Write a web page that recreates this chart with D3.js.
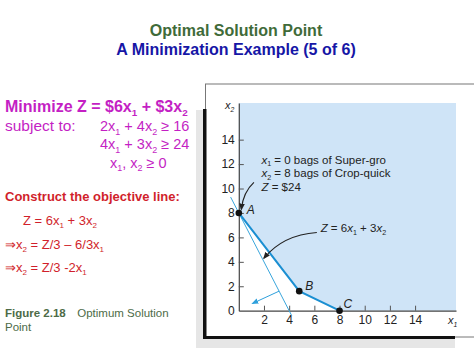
<!DOCTYPE html>
<html>
<head>
<meta charset="utf-8">
<script src="https://cdn.jsdelivr.net/npm/d3@7"></script>
<style>
  body { margin: 0; background: #fff; }
  svg { display: block; font-family: "Liberation Sans", Arial, sans-serif; }
</style>
</head>
<body>
<script>
// Minimization example: feasible region, corner points and objective line
const width = 474, height = 355;

const xTicks = [2, 4, 6, 8, 10, 12, 14];
const yTicks = [0, 2, 4, 6, 8, 10, 12, 14];

// boundary of the feasible region (constraint lines)
const boundary = [[0, 8], [4.8, 1.6], [8, 0]];
const corners = [
    { name: "A", x1: 0, x2: 8 },
    { name: "B", x1: 4.8, x2: 1.6 },
    { name: "C", x1: 8, x2: 0 }
];
// objective line Z = 24 (x2 = 8 - 2x1), drawn a bit past the axes
const objLine = [[-0.65, 9.3], [4.2, -0.4]];
// direction of improvement
const objArrow = [[3.2, 1.6], [1.1, 0.6]];

const titleLines = ["Optimal Solution Point", "A Minimization Example (5 of 6)"];
const modelLines = ["2x_1 + 4x_2 \u2265 16", "4x_1 + 3x_2 \u2265 24", "x_1, x_2 \u2265 0"];
const objSteps = ["Z = 6x_1 + 3x_2", "\u21d2x_2 = Z/3 \u2013 6/3x_1", "\u21d2x_2 = Z/3 -2x_1"];
const noteLines = ["~x~_1 = 0 bags of Super-gro", "~x~_2 = 8 bags of Crop-quick", "~Z~ = $24"];

const svg = d3.select("body").append("svg")
    .attr("width", width)
    .attr("height", height);

svg.append("rect").attr("width", width).attr("height", height).attr("fill", "#fff");

// writes text with _d subscripts and ~...~ italics
function rich(sel, str, size) {
    const parts = str.split(/(_\d|~)/).filter(s => s !== "");
    let italic = false, down = false;
    parts.forEach(p => {
        if (p === "~") { italic = !italic; return; }
        const t = sel.append("tspan");
        if (p[0] === "_") {
            t.text(p.slice(1)).attr("font-size", size * 0.62).attr("dy", size * 0.25);
            down = true;
        } else {
            t.text(p);
            if (down) { t.attr("dy", -size * 0.25); down = false; }
        }
        if (italic) t.attr("font-style", "italic");
    });
    return sel;
}

// titles
svg.append("text").attr("x", 236).attr("y", 36).attr("text-anchor", "middle")
    .attr("font-size", 16).attr("font-weight", "bold").attr("fill", "#3f6b39")
    .text(titleLines[0]);
svg.append("text").attr("x", 236).attr("y", 55).attr("text-anchor", "middle")
    .attr("font-size", 16).attr("font-weight", "bold").attr("fill", "#1616a6")
    .text(titleLines[1]);

// model
const magenta = "#c41fc4";
rich(svg.append("text").attr("x", 5).attr("y", 112).attr("font-size", 16)
    .attr("font-weight", "bold").attr("fill", magenta), "Minimize Z = $6x_1 + $3x_2", 16);
svg.append("text").attr("x", 5).attr("y", 131).attr("font-size", 15.5).attr("fill", magenta)
    .text("subject to:");
modelLines.forEach((s, i) => {
    rich(svg.append("text").attr("x", i === 2 ? 110 : 100).attr("y", 131 + i * 18.3)
        .attr("font-size", 14.5).attr("fill", magenta), s, 14.5);
});

// objective line construction
const red = "#d11f2c";
svg.append("text").attr("x", 5).attr("y", 201).attr("font-size", 13)
    .attr("font-weight", "bold").attr("fill", red).text("Construct the objective line:");
objSteps.forEach((s, i) => {
    rich(svg.append("text").attr("x", i === 0 ? 23 : 5).attr("y", 225 + i * 23.5)
        .attr("font-size", 13).attr("fill", red), s, 13);
});

const cap = svg.append("text").attr("x", 5).attr("y", 317).attr("font-size", 11.5).attr("fill", "#4d6b47");
cap.append("tspan").attr("font-weight", "bold").text("Figure 2.18");
cap.append("tspan").text("\u2003Optimum Solution");
svg.append("text").attr("x", 5).attr("y", 331).attr("font-size", 11.5).attr("fill", "#4d6b47").text("Point");

// figure frame
svg.append("rect").attr("x", 196).attr("y", 110).attr("width", 259).attr("height", 238).attr("fill", "#e6e6e6");
svg.append("rect").attr("x", 205.5).attr("y", 84).attr("width", 280).attr("height", 253)
    .attr("fill", "#fff").attr("stroke", "#777").attr("stroke-width", 1);
svg.append("rect").attr("x", 203).attr("y", 109).attr("width", 3.5).attr("height", 230).attr("fill", "#111");
svg.append("rect").attr("x", 203).attr("y", 336).attr("width", 252).attr("height", 3).attr("fill", "#111");

// chart
const x = d3.scaleLinear().domain([0, 17.25]).range([238.8, 456]);
const y = d3.scaleLinear().domain([0, 17]).range([310.7, 103]);

const region = [[0, 17], [17.25, 17], [17.25, 0]].concat(boundary.slice().reverse());
svg.append("path")
    .attr("d", d3.line().x(d => x(d[0])).y(d => y(d[1]))(region) + "Z")
    .attr("fill", "#cfe4f7");

// axes
const gx = svg.append("g").attr("transform", `translate(0,${y(0)})`)
    .call(d3.axisBottom(x).tickValues(xTicks).tickSize(-5).tickPadding(5).tickSizeOuter(0));
const gy = svg.append("g").attr("transform", `translate(${x(0)},0)`)
    .call(d3.axisLeft(y).tickValues(yTicks).tickSize(-5).tickPadding(4).tickSizeOuter(0));
[gx, gy].forEach(g => {
    g.select(".domain").attr("stroke", "#444").attr("stroke-width", 1.2);
    g.selectAll(".tick line").attr("stroke", "#555");
    g.selectAll(".tick text").attr("font-size", 12).attr("fill", "#222")
        .attr("font-family", "Liberation Sans, Arial, sans-serif");
});
gy.selectAll(".tick text").attr("x", -4);
gy.selectAll(".tick").filter(d => d === 0).select("line").remove();

rich(svg.append("text").attr("x", 225).attr("y", 109).attr("font-size", 11)
    .attr("font-style", "italic").attr("fill", "#222"), "x_2", 11);
rich(svg.append("text").attr("x", 448).attr("y", 324).attr("font-size", 11)
    .attr("font-style", "italic").attr("fill", "#222"), "x_1", 11);

// objective line and direction arrow
svg.append("defs").html(`
  <marker id="hb" viewBox="0 0 10 10" refX="8" refY="5" markerWidth="7" markerHeight="7" orient="auto">
    <path d="M0,1 L10,5 L0,9 Z" fill="#2ea0dc"/></marker>
  <marker id="hk" viewBox="0 0 10 10" refX="8" refY="5" markerWidth="6" markerHeight="6" orient="auto">
    <path d="M0,1 L10,5 L0,9 Z" fill="#222"/></marker>`);

svg.append("path")
    .attr("d", d3.line().x(d => x(d[0])).y(d => y(d[1]))(objLine))
    .attr("stroke", "#3aa6dc").attr("stroke-width", 1).attr("fill", "none");
svg.append("path")
    .attr("d", d3.line().x(d => x(d[0])).y(d => y(d[1]))(objArrow))
    .attr("stroke", "#2ea0dc").attr("stroke-width", 1).attr("fill", "none")
    .attr("marker-end", "url(#hb)");

svg.append("path")
    .attr("d", d3.line().x(d => x(d[0])).y(d => y(d[1]))(boundary))
    .attr("stroke", "#1b8fd2").attr("stroke-width", 2).attr("fill", "none");

const labOff = { A: [8, 1], B: [6, -1], C: [4, -3] };
svg.selectAll(".corner").data(corners).enter().append("circle")
    .attr("cx", d => x(d.x1)).attr("cy", d => y(d.x2)).attr("r", 3.3).attr("fill", "#111");
svg.selectAll(".clab").data(corners).enter().append("text")
    .attr("x", d => x(d.x1) + labOff[d.name][0])
    .attr("y", d => y(d.x2) + labOff[d.name][1])
    .attr("font-size", 12).attr("font-style", "italic").attr("fill", "#222")
    .text(d => d.name);

// annotations
noteLines.forEach((s, i) => {
    rich(svg.append("text").attr("x", x(1.8)).attr("y", 163.5 + i * 13.7)
        .attr("font-size", 11.5).attr("fill", "#222"), s, 11.5);
});
rich(svg.append("text").attr("x", x(6.5)).attr("y", 232).attr("font-size", 11.5).attr("fill", "#222"),
    "~Z~ = 6~x~_1 + 3~x~_2", 11.5);

function curve(p0, c, p1) {
    const p = d3.path();
    p.moveTo(x(p0[0]), y(p0[1]));
    p.quadraticCurveTo(x(c[0]), y(c[1]), x(p1[0]), y(p1[1]));
    return p.toString();
}
svg.append("path").attr("d", curve([1.2, 10.5], [0.35, 9.7], [0.2, 8.3]))
    .attr("stroke", "#222").attr("stroke-width", 1.2).attr("fill", "none").attr("marker-end", "url(#hk)");
svg.append("path").attr("d", curve([6.2, 6.4], [3.5, 6.2], [2.0, 4.3]))
    .attr("stroke", "#222").attr("stroke-width", 1.2).attr("fill", "none").attr("marker-end", "url(#hk)");
</script>
</body>
</html>
